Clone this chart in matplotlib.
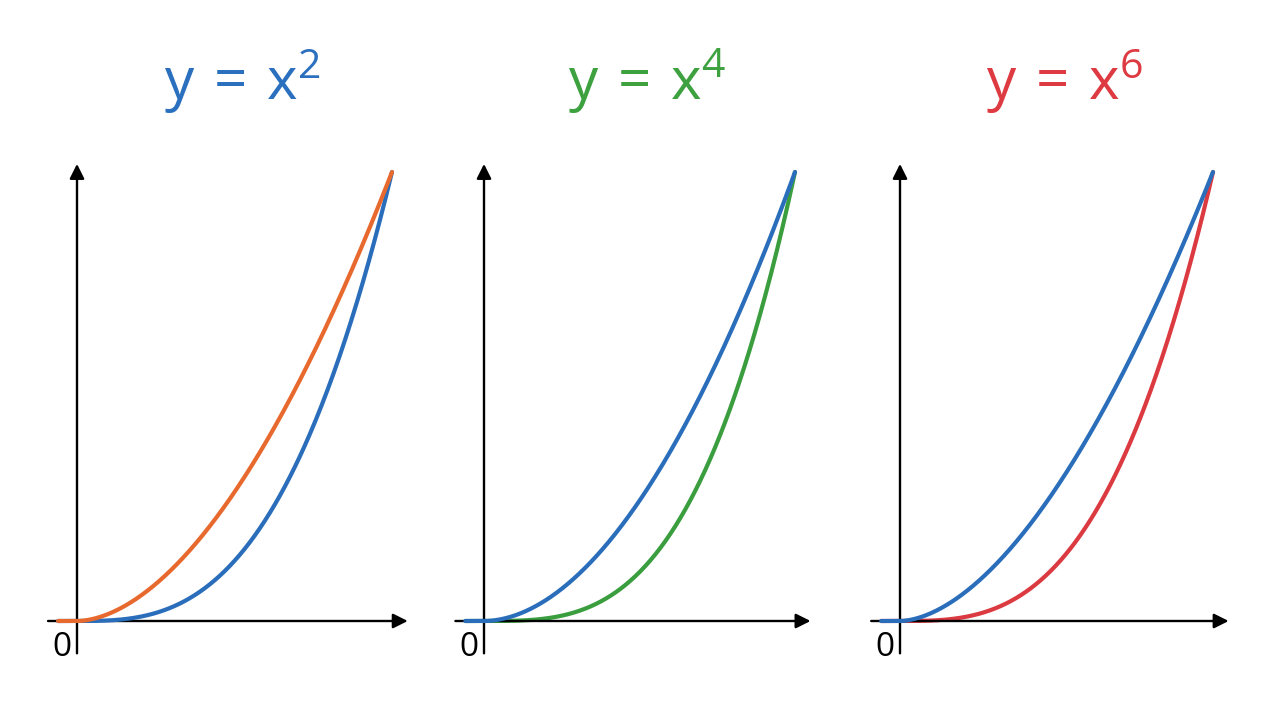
import numpy as np
import matplotlib
matplotlib.use('Agg')
from matplotlib import pyplot as plt

plt.rcParams['font.family'] = ['Open Sans', 'DejaVu Sans']
plt.rcParams['mathtext.fontset'] = 'custom'
plt.rcParams['mathtext.rm'] = 'Open Sans'
plt.rcParams['mathtext.it'] = 'Open Sans'

# panel titles (exponent named in each title)
titles = ['2', '4', '6']
title_colors = ['#2a70bf', '#3da13f', '#dd3a42']

# curve exponents: blue reference curve and coloured curve
blue_exp = [2.9, 1.9, 1.75]
color_exp = [1.8, 3.2, 3.0]
curve_colors = ['#e8692e', '#3a9e3f', '#dc3a41']
blue = '#2a6ebb'

# pixel anchors of each panel: x of y-axis, x of curve end point
x_origin = [77, 484, 900]
x_end = [392, 795, 1213]
y_origin, y_end = 621, 172

fig = plt.figure(figsize=(12.8, 7.2), dpi=100)

xmin, xmax, ymin, ymax = -0.15, 1.12, -0.15, 1.25
sy = y_origin - y_end
xs = np.linspace(-0.06, 1.0, 400)
xpos = np.clip(xs, 0, None)

for i in range(3):
    sx = x_end[i] - x_origin[i]
    left = (x_origin[i] + xmin * sx) / 1280
    width = (xmax - xmin) * sx / 1280
    bottom = (720 - (y_origin - ymin * sy)) / 720
    height = (ymax - ymin) * sy / 720
    ax = fig.add_axes([left, bottom, width, height])
    ax.set_xlim(xmin, xmax)
    ax.set_ylim(ymin, ymax)
    ax.axis('off')

    # axes with arrow heads
    arrow = dict(arrowstyle='-|>', color='black', lw=1.7, mutation_scale=22,
                 shrinkA=0, shrinkB=0)
    ax.annotate('', xy=(1.05, 0), xytext=(-0.092, 0), arrowprops=arrow)
    ax.annotate('', xy=(0, 1.018), xytext=(0, -0.072), arrowprops=arrow)

    ax.plot(xs, xpos ** blue_exp[i], color=blue, lw=3, solid_capstyle='round', zorder=3)
    ax.plot(xs, xpos ** color_exp[i], color=curve_colors[i], lw=3,
            solid_capstyle='round', zorder=3 if i == 0 else 2)

    ax.text(-0.048, -0.058, '0', fontsize=24, ha='center', va='center', color='black')
    ax.text(0.525, 1.16, r'$\mathregular{y\,=\,x^{%s}}$' % titles[i], fontsize=42,
            ha='center', va='baseline', color=title_colors[i], clip_on=False)

fig.savefig('out.png', dpi=100)
